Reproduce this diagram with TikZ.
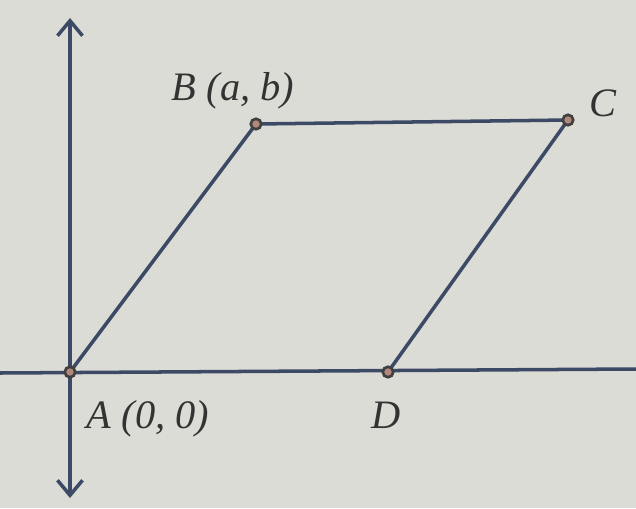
\documentclass[tikz,border=0pt]{standalone}
\usepackage{fontspec}
\setmainfont{Liberation Serif}
\usetikzlibrary{arrows.meta}
\definecolor{paper}{RGB}{220,220,214}
\definecolor{ink}{RGB}{60,74,102}
\definecolor{dotfill}{RGB}{176,136,124}

\begin{document}
\begin{tikzpicture}[x=0.02cm, y=-0.02cm, line width=2pt,
	vertex/.style={circle, draw=black!75, fill=dotfill, line width=1.5pt, inner sep=0pt, minimum size=0.21cm},
	ptlabel/.style={font=\fontsize{23}{27}\selectfont\itshape, text=black!80, anchor=base, inner sep=0pt},
	axisline/.style={draw=ink, -{Straight Barb[length=3mm, width=5mm, line width=2pt]}}]
	\fill[paper] (0,0) rectangle (636,508);
	\useasboundingbox (0,0) rectangle (636,508);
	%Achsen
	\coordinate (origin) at (70,372);
	\coordinate (yTop) at (70,18);
	\coordinate (yBot) at (70,498);
	\coordinate (xLeft) at (0,373);
	\coordinate (xRight) at (636,369);
	\draw[ink] (xLeft) -- (xRight);
	\draw[axisline] (origin) -- (yTop);
	\draw[axisline] (origin) -- (yBot);
	%Parallelogramm
	\draw[ink] (origin) -- (256,124) coordinate (ptB) -- (568,120) coordinate (ptC) -- (388,372) coordinate (ptD);
	\node (dotA) [vertex] at (origin) {};
	\node (dotB) [vertex] at (ptB) {};
	\node (dotC) [vertex] at (ptC) {};
	\node (dotD) [vertex] at (ptD) {};
	%Beschriftung
	\node (nameB) [ptlabel] at (233,100) {B (a, b)};
	\node (nameC) [ptlabel] at (603,116) {C};
	\node (nameA) [ptlabel] at (148,428) {A (0, 0)};
	\node (nameD) [ptlabel] at (386,428) {D};
\end{tikzpicture}
\end{document}
